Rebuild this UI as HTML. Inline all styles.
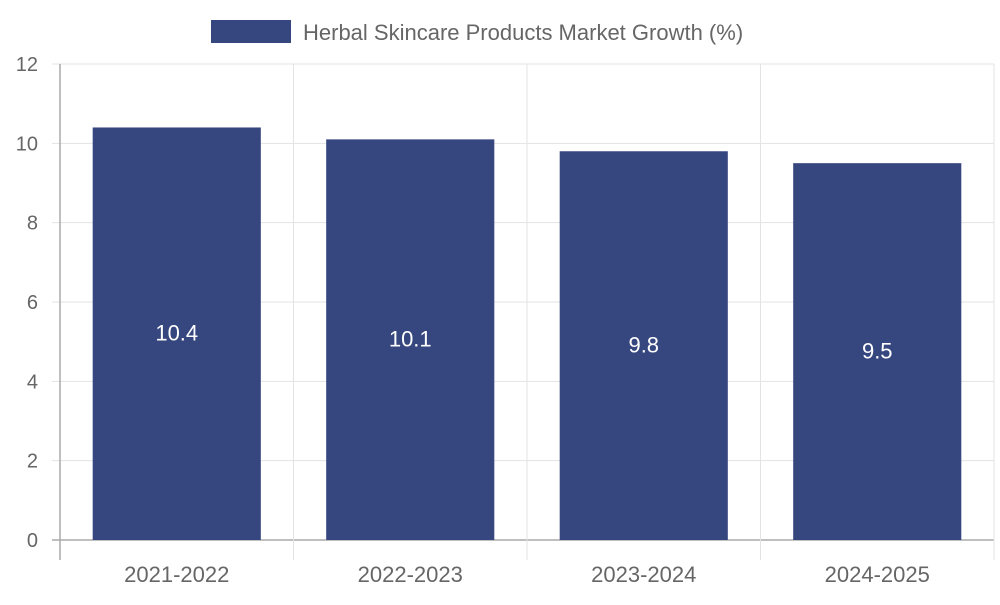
<!DOCTYPE html>
<html><head><meta charset="utf-8"><style>
body{margin:0;background:#fff}
text{font-family:"Liberation Sans",sans-serif}
</style></head><body>
<svg id="chart" width="1000" height="600">
<g id="grid"></g>
<g id="bars"></g>
<g id="axes"></g>
<g>
<rect x="211" y="20" width="80" height="23" fill="#36467f"/>
<text x="303" y="40" font-size="22" fill="#666">Herbal Skincare Products Market Growth (%)</text>
</g>
</svg>
<script>
const categories=["2021-2022","2022-2023","2023-2024","2024-2025"];
const values=[10.4,10.1,9.8,9.5];
const yTicks=[0,2,4,6,8,10,12];
const NS="http://www.w3.org/2000/svg";
const L=60,R=994,T=64,B=540,yMax=12;
const y=v=>B-(v/yMax)*(B-T);
const bw=(R-L)/categories.length;
const x=i=>L+i*bw;
function mk(p,tag,a){const e=document.createElementNS(NS,tag);for(const k in a)e.setAttribute(k,a[k]);p.appendChild(e);return e;}
const grid=document.getElementById('grid'),bars=document.getElementById('bars'),axes=document.getElementById('axes');
yTicks.forEach(t=>{
 const l=mk(grid,'line',{x1:52,x2:R,y1:y(t),y2:y(t),stroke:t===0?'#aaa':'#e3e3e3','stroke-width':t===0?1.5:1});
 
 
 const tx=mk(axes,'text',{x:38,y:y(t)+7,'text-anchor':'end','font-size':20,fill:'#666'});
 tx.textContent=t;
 
 
});
for(let i=0;i<=categories.length;i++){
 const l=mk(grid,'line',{x1:x(i),x2:x(i),y1:T,y2:560,stroke:i===0?'#aaa':'#e3e3e3','stroke-width':i===0?1.5:1});
 
 
}
categories.forEach((c,i)=>{
 const w=bw*0.72,cx=x(i)+bw/2;
 const r=mk(bars,'rect',{x:cx-w/2,y:y(values[i]),width:w,height:B-y(values[i]),fill:'#36467f'});
 
 
 const vt=mk(bars,'text',{x:cx,y:(y(values[i])+B)/2+7,'text-anchor':'middle','font-size':22,fill:'#fff'});
 vt.textContent=values[i];
 
 
 const xt=mk(axes,'text',{x:cx,y:582,'text-anchor':'middle','font-size':22,fill:'#666'});
 xt.textContent=c;
 
 
});
</script>
</body></html>
